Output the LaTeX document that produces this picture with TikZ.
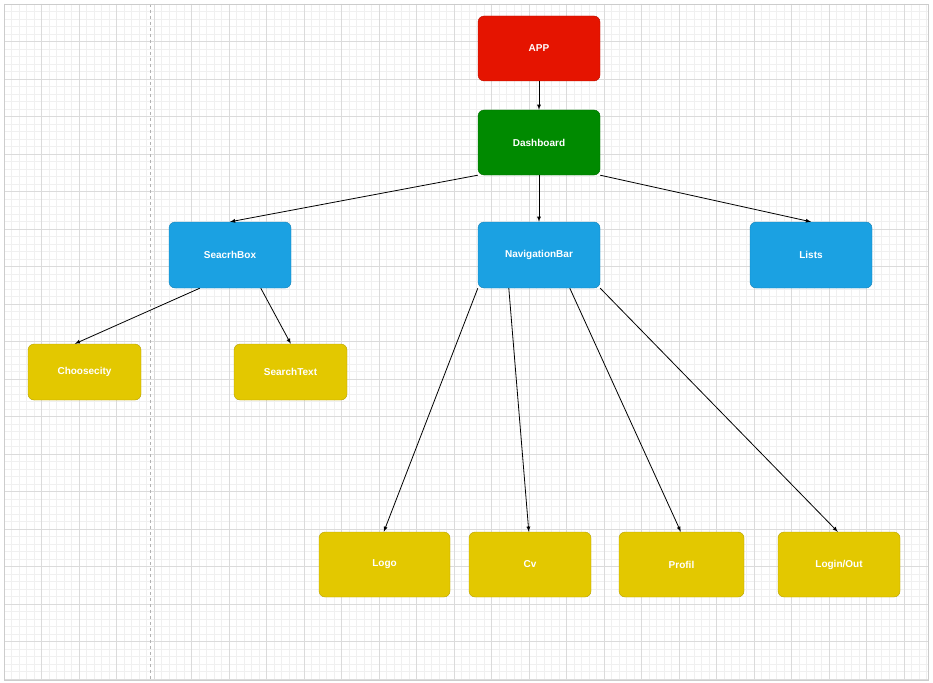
\documentclass[tikz,border=0pt]{standalone}
\usepackage{fontspec}
\setmainfont{Liberation Sans}
\usetikzlibrary{calc}
\definecolor{cred}{HTML}{E51400}\definecolor{cgreen}{HTML}{008A00}
\definecolor{cblue}{HTML}{1BA1E2}\definecolor{cyel}{HTML}{E3C800}
\begin{document}
\begin{tikzpicture}[x=1pt,y=-1pt,
 box/.style={draw=#1!80!black,fill=#1,rounded corners=6pt,text=white,font=\bfseries\fontsize{10}{12}\selectfont,inner sep=0pt},
 arr/.style={-latex,line width=0.8pt}]
\useasboundingbox (0,0) rectangle (933,682);
\fill[white] (0,0) rectangle (933,682);
\foreach \x in {4,11.5,...,928} \draw[black!6,line width=0.4pt] (\x,4) -- (\x,680);
\foreach \y in {4,11.5,...,680} \draw[black!6,line width=0.4pt] (4,\y) -- (928,\y);
\foreach \x in {4,41.5,...,928} \draw[black!14,line width=0.5pt] (\x,4) -- (\x,680);
\foreach \y in {4,41.5,...,680} \draw[black!14,line width=0.5pt] (4,\y) -- (928,\y);
\draw[black!30,dashed,line width=1pt] (150,4) -- (150,680);
\draw[black!20] (4,4) rectangle (928,680);
\newcommand{\bx}[7]{\node[box=#2,minimum width=#5-#3,minimum height=#6-#4] (#1) at ({(#3+#5)/2},{(#4+#6)/2}) {#7};}
\bx{app}{cred}{478}{16}{600}{81}{APP}
\bx{dash}{cgreen}{478}{110}{600}{175}{Dashboard}
\bx{sb}{cblue}{169}{222}{291}{288}{SeacrhBox}
\bx{nav}{cblue}{478}{222}{600}{288}{NavigationBar}
\bx{lists}{cblue}{750}{222}{872}{288}{Lists}
\bx{city}{cyel}{28}{344}{141}{400}{Choosecity}
\bx{st}{cyel}{234}{344}{347}{400}{SearchText}
\bx{logo}{cyel}{319}{532}{450}{597}{Logo}
\bx{cv}{cyel}{469}{532}{591}{597}{Cv}
\bx{prof}{cyel}{619}{532}{744}{597}{Profil}
\bx{login}{cyel}{778}{532}{900}{597}{Login/Out}
\draw[arr] (app) -- (dash);
\draw[arr] (dash) -- (nav);
\draw[arr] (dash.south west) -- ($(sb.north)+(0,0)$);
\draw[arr] (dash.south east) -- (lists.north);
\draw[arr] ($(sb.south west)+(31,0)$) -- ($(city.north west)+(47,0)$);
\draw[arr] ($(sb.south west)+(92,0)$) -- ($(st.north west)+(57,0)$);
\draw[arr] (nav.south west) -- ($(logo.north west)+(65,0)$);
\draw[arr] ($(nav.south west)+(31,0)$) -- ($(cv.north west)+(60,0)$);
\draw[arr] ($(nav.south west)+(92,0)$) -- ($(prof.north west)+(62,0)$);
\draw[arr] (nav.south east) -- ($(login.north west)+(60,0)$);
\end{tikzpicture}
\end{document}
